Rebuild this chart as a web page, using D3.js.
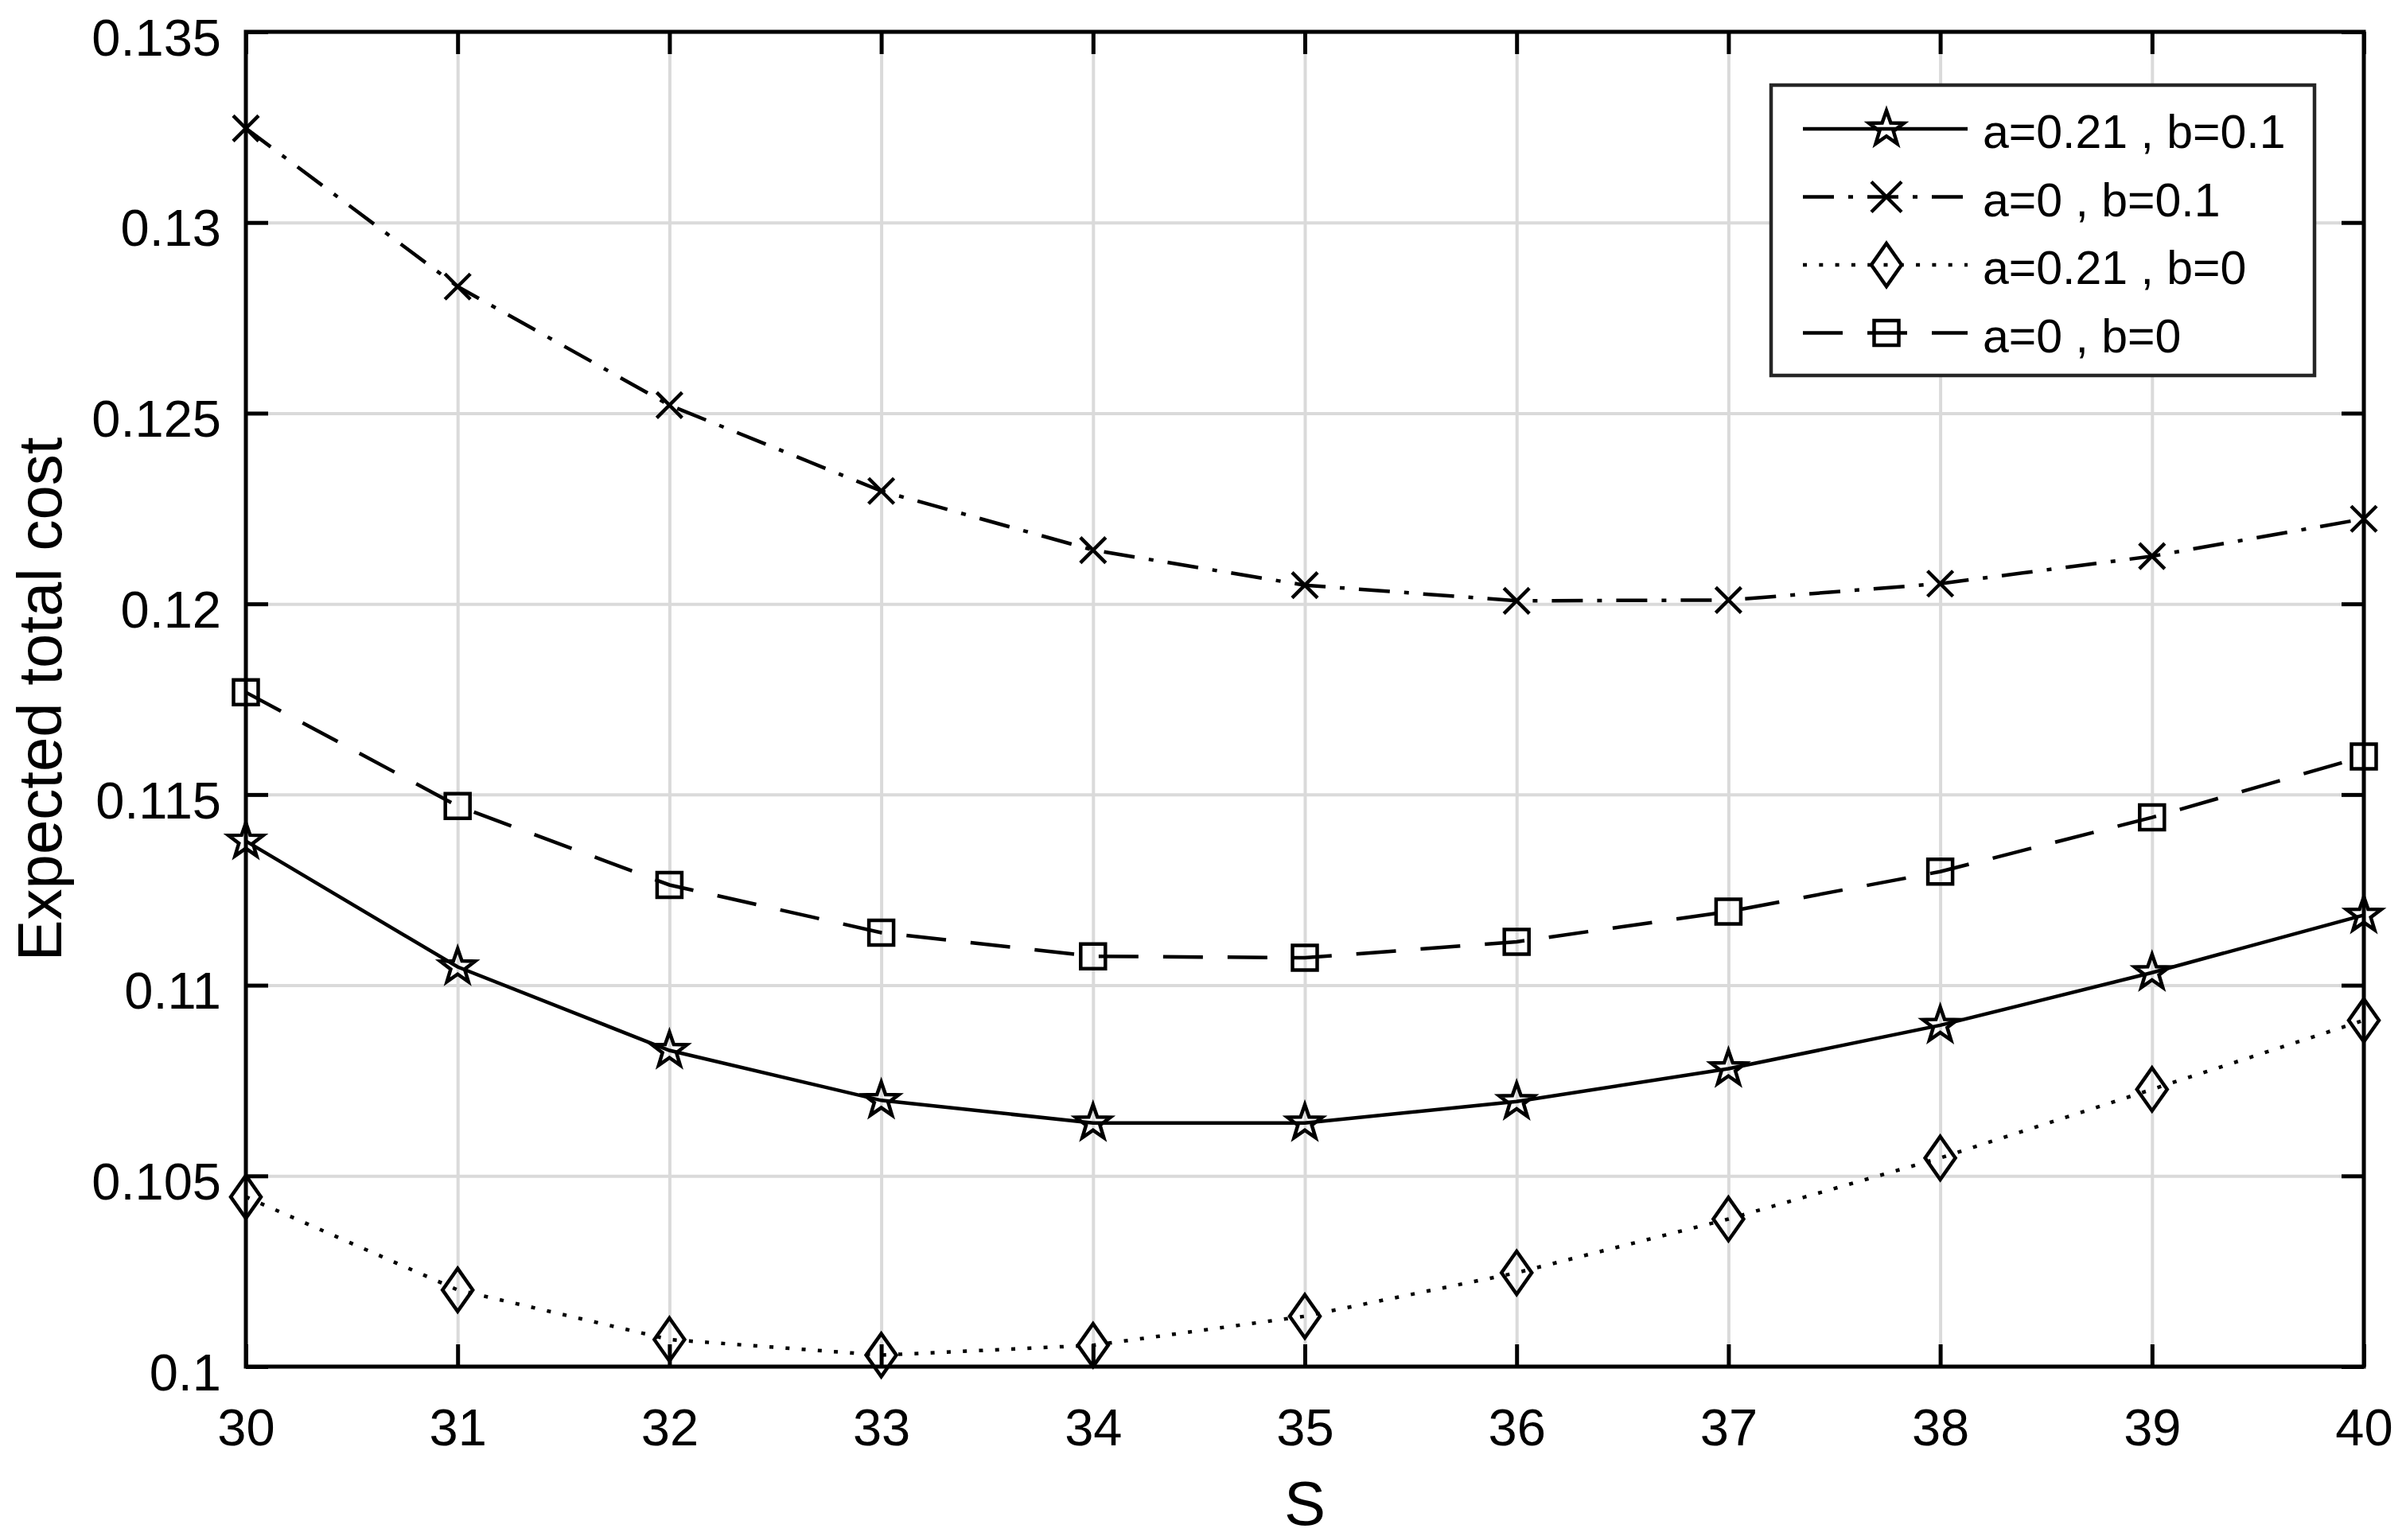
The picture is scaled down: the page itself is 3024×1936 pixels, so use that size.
<!DOCTYPE html>
<html>
<head>
<meta charset="utf-8">
<script src="https://cdn.jsdelivr.net/npm/d3@7"></script>
<style>
  body { margin: 0; background: #fff; }
  text { font-family: "Liberation Sans", Arial, Helvetica, sans-serif; fill: #000; }
</style>
</head>
<body>
<div id="chart-area"></div>
<script>
// values
let sValues = [30, 31, 32, 33, 34, 35, 36, 37, 38, 39, 40];
let costA21B01 = [0.11378, 0.11048, 0.10829, 0.10698, 0.10639, 0.10639, 0.10695, 0.10781, 0.10895, 0.11033, 0.11184];
let costA0B01  = [0.13247, 0.12832, 0.12521, 0.12296, 0.12141, 0.12049, 0.12008, 0.12010, 0.12053, 0.12125, 0.12223];
let costA21B0  = [0.10445, 0.10201, 0.10071, 0.10030, 0.10056, 0.10132, 0.10246, 0.10387, 0.10547, 0.10727, 0.10908];
let costA0B0   = [0.11768, 0.11470, 0.11263, 0.11138, 0.11076, 0.11072, 0.11114, 0.11193, 0.11298, 0.11440, 0.11600];
let seriesNames = ["a=0.21 , b=0.1", "a=0 , b=0.1", "a=0.21 , b=0", "a=0 , b=0"];
let xTicks = [30, 31, 32, 33, 34, 35, 36, 37, 38, 39, 40];
let yTicks = [0.1, 0.105, 0.11, 0.115, 0.12, 0.125, 0.13, 0.135];
let yTickLabels = ["0.1", "0.105", "0.11", "0.115", "0.12", "0.125", "0.13", "0.135"];

let series = [
    { name: seriesNames[0], values: costA21B01, dash: null,          marker: "star" },
    { name: seriesNames[1], values: costA0B01,  dash: "39,18,6,18",  marker: "x" },
    { name: seriesNames[2], values: costA21B0,  dash: "5,15.3",      marker: "diamond" },
    { name: seriesNames[3], values: costA0B0,   dash: "50,31",       marker: "square" }
];

let margin = { left: 309, right: 53, top: 40, bottom: 218 };
let width = 3024 - margin.left - margin.right,
    height = 1936 - margin.top - margin.bottom;

let svg = d3.select("#chart-area")
    .append("svg")
        .attr("width", 3024)
        .attr("height", 1936);

let g = svg.append("g")
    .attr("transform", `translate(${margin.left}, ${margin.top})`);

let x = d3.scaleLinear().domain([30, 40]).range([0, width]);
let y = d3.scaleLinear().domain([0.1, 0.135]).range([height, 0]);

// marker shapes
function markerPath(type, big) {
    if (type === "star") {
        let R = 23, r = R * 0.4, pts = [];
        for (let i = 0; i < 10; i++) {
            let a = -Math.PI / 2 + i * Math.PI / 5;
            let rad = i % 2 === 0 ? R : r;
            pts.push([rad * Math.cos(a), rad * Math.sin(a)]);
        }
        return "M" + pts.map(p => p.join(",")).join("L") + "Z";
    }
    if (type === "x") {
        let h = big ? 19 : 16;
        return `M${-h},${-h}L${h},${h}M${-h},${h}L${h},${-h}`;
    }
    if (type === "diamond") {
        return "M0,-27L19,0L0,27L-19,0Z";
    }
    return "M-15.5,-15.5H15.5V15.5H-15.5Z";
}

// grid
g.append("g")
    .attr("class", "grid")
    .attr("transform", `translate(0, ${height})`)
    .call(d3.axisBottom(x).tickValues(xTicks).tickSize(-height).tickFormat(""));
g.append("g")
    .attr("class", "grid")
    .call(d3.axisLeft(y).tickValues(yTicks).tickSize(-width).tickFormat(""));
g.selectAll(".grid .domain").remove();
g.selectAll(".grid line")
    .attr("stroke", "#dadada")
    .attr("stroke-width", 4);

// data lines
let line = d3.line()
    .x((d, i) => x(sValues[i]))
    .y(d => y(d));

series.forEach((s) => {
    g.append("path")
        .datum(s.values)
        .attr("fill", "none")
        .attr("stroke", "#000")
        .attr("stroke-width", 4.5)
        .attr("stroke-dasharray", s.dash)
        .attr("d", line);

    g.selectAll(null)
        .data(s.values)
        .enter()
        .append("path")
            .attr("transform", (d, i) => `translate(${x(sValues[i])}, ${y(d)})`)
            .attr("d", markerPath(s.marker))
            .attr("fill", "none")
            .attr("stroke", "#000")
            .attr("stroke-width", 4.5)
            .attr("stroke-linejoin", "miter");
});

// axes, ticks pointing in
let xAxisCall = d3.axisBottom(x)
    .tickValues(xTicks)
    .tickSizeInner(-28)
    .tickSizeOuter(0)
    .tickPadding(53);
let xAxis = g.append("g")
    .attr("class", "x axis")
    .attr("transform", `translate(0, ${height})`)
    .call(xAxisCall);

let yAxisCall = d3.axisLeft(y)
    .tickValues(yTicks)
    .tickSizeInner(-28)
    .tickSizeOuter(0)
    .tickPadding(31)
    .tickFormat((d, i) => yTickLabels[i]);
let yAxis = g.append("g")
    .attr("class", "y axis")
    .call(yAxisCall);
yAxis.selectAll("text").attr("dy", "0.45em");

g.append("g")
    .call(d3.axisTop(x).tickValues(xTicks).tickSizeInner(-28).tickSizeOuter(0).tickFormat(""));
g.append("g")
    .attr("transform", `translate(${width}, 0)`)
    .call(d3.axisRight(y).tickValues(yTicks).tickSizeInner(-28).tickSizeOuter(0).tickFormat(""));

g.selectAll(".domain").attr("stroke", "none");
g.selectAll(".tick line").filter(function() { return !this.closest(".grid"); })
    .attr("stroke", "#000")
    .attr("stroke-width", 5);
g.selectAll(".axis text")
    .attr("font-size", "65px")
    .attr("font-family", "'Liberation Sans', Arial, Helvetica, sans-serif")
    .attr("fill", "#000");

g.append("rect")
    .attr("width", width)
    .attr("height", height)
    .attr("fill", "none")
    .attr("stroke", "#000")
    .attr("stroke-width", 5);

// axis labels
g.append("text")
    .attr("x", width / 2)
    .attr("y", height + 199)
    .attr("font-size", "78px")
    .attr("text-anchor", "middle")
    .text("S");

g.append("text")
    .attr("x", -(height / 2))
    .attr("y", 77 - margin.left)
    .attr("font-size", "78px")
    .attr("text-anchor", "middle")
    .attr("transform", "rotate(-90)")
    .text("Expected total cost");

// legend
let legend = svg.append("g")
    .attr("transform", "translate(2226, 107)");

legend.append("rect")
    .attr("width", 683)
    .attr("height", 365)
    .attr("fill", "#fff")
    .attr("stroke", "#262626")
    .attr("stroke-width", 4.5);

let items = legend.selectAll(".item")
    .data(series)
    .enter()
    .append("g")
        .attr("class", "item")
        .attr("transform", (d, i) => `translate(0, ${55 + i * 85.5})`);

items.append("line")
    .attr("x1", 40)
    .attr("x2", 247)
    .attr("stroke", "#000")
    .attr("stroke-width", 4.5)
    .attr("stroke-dasharray", d => d.dash);

items.append("path")
    .attr("transform", "translate(145, 0)")
    .attr("d", d => markerPath(d.marker, true))
    .attr("fill", "none")
    .attr("stroke", "#000")
    .attr("stroke-width", 4.5);

items.append("text")
    .attr("x", 266)
    .attr("y", 24)
    .attr("font-size", "59px")
    .text(d => d.name);
</script>
</body>
</html>
